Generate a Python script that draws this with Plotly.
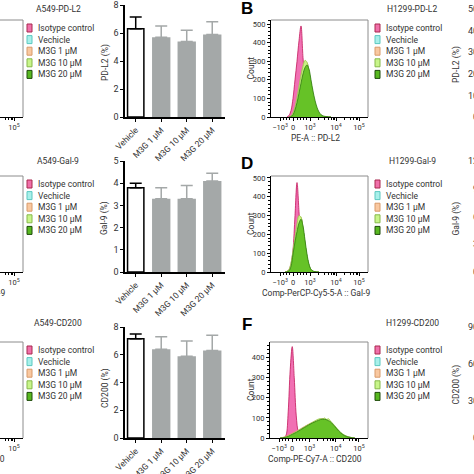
import plotly.graph_objects as go

W = H = 474
FONT = "Roboto, Noto Sans, DejaVu Sans, sans-serif"
TXT = "#333333"

# ---------------- data ----------------
GROUPS = ["Vehicle", "M3G 1 μM", "M3G 10 μM", "M3G 20 μM"]
LEGEND_LABELS = ["Isotype control", "Vechicle", "M3G 1 μM", "M3G 10 μM", "M3G 20 μM"]

PDL2_MEAN = [6.3, 5.7, 5.4, 5.9]
PDL2_SD = [0.85, 0.8, 0.8, 0.9]
GAL9_MEAN = [3.8, 3.3, 3.3, 4.1]
GAL9_SD = [0.2, 0.5, 0.6, 0.35]
CD200_MEAN = [7.15, 6.4, 5.9, 6.3]
CD200_SD = [0.35, 0.9, 1.1, 1.1]

FLOW_TICKVALS = [9, 22, 39, 65, 88]
FLOW_TICKTEXT = ["−10<sup>3</sup>", "0", "10<sup>3</sup>", "10<sup>4</sup>", "10<sup>5</sup>"]
FLOW_MINOR = [12, 15, 18, 26, 29, 32, 35, 47, 53, 57, 60, 62, 63, 73, 79, 82, 85, 86]
COUNT_TICKS = [0, 100, 200, 300, 400, 500]

# H1299-PD-L2 histograms (panel B)
B_ISO_X = [16, 18, 20, 22, 24, 26, 28, 30, 32, 34, 36, 38, 40]
B_ISO = [0, 8, 35, 100, 200, 300, 410, 490, 320, 190, 95, 30, 0]
B_X = [18, 20, 22, 24, 26, 28, 30, 32, 34, 36, 38, 40, 42, 44, 46, 48, 50, 52, 56, 60]
B_VEH = [0, 5, 20, 50, 100, 160, 220, 270, 295, 290, 240, 175, 115, 70, 38, 18, 8, 3, 1, 0]
B_M1 = [0, 6, 22, 55, 105, 165, 225, 275, 300, 292, 240, 172, 112, 68, 36, 17, 8, 3, 1, 0]
B_M10 = [0, 5, 20, 52, 100, 160, 222, 272, 305, 295, 245, 178, 116, 70, 37, 18, 8, 3, 1, 0]
B_M20 = [0, 2, 12, 38, 78, 128, 182, 232, 266, 280, 258, 200, 140, 90, 52, 27, 13, 6, 2, 0]

# H1299-Gal-9 histograms (panel D)
D_ISO_X = [16, 18, 20, 22, 24, 26, 28, 30, 32, 34, 36]
D_ISO = [0, 5, 30, 115, 300, 475, 320, 130, 35, 6, 0]
D_X = [14, 16, 18, 20, 22, 24, 26, 28, 30, 32, 34, 36, 38, 40, 42, 44, 48]
D_VEH = [0, 3, 12, 45, 110, 180, 248, 295, 288, 228, 150, 82, 36, 13, 4, 1, 0]
D_M1 = [0, 3, 14, 48, 115, 185, 252, 298, 290, 230, 150, 80, 35, 12, 4, 1, 0]
D_M10 = [0, 3, 12, 44, 108, 178, 250, 300, 292, 232, 152, 82, 36, 13, 4, 1, 0]
D_M20 = [0, 1, 6, 30, 95, 160, 215, 260, 280, 245, 170, 95, 42, 14, 5, 2, 0]

# H1299-CD200 histograms (panel F)
F_ISO_X = [14, 16, 18, 20, 22, 24, 26, 28, 30, 32]
F_ISO = [0, 15, 130, 340, 455, 300, 110, 28, 6, 0]
F_X = [10, 14, 18, 22, 26, 30, 34, 38, 42, 46, 50, 52, 54, 56, 58, 60, 64, 68, 72, 76, 80, 84]
F_VEH = [0, 3, 10, 20, 30, 42, 54, 66, 77, 86, 93, 95, 94, 92, 88, 82, 60, 37, 19, 8, 3, 0]
F_M1 = [0, 5, 14, 24, 34, 45, 57, 68, 78, 87, 94, 96, 95, 92, 88, 81, 59, 36, 18, 8, 3, 0]
F_M10 = [0, 3, 10, 20, 31, 43, 55, 67, 78, 90, 97, 94, 100, 93, 96, 84, 62, 38, 20, 9, 3, 0]
F_M20 = [0, 2, 8, 18, 28, 40, 52, 64, 75, 84, 92, 94, 93, 91, 86, 80, 58, 35, 17, 7, 2, 0]

RIGHT_PDL2_TICKS = [0, 10, 20, 30, 40, 50]
RIGHT_GAL9_TICKS = [0, 3, 6, 9, 12]
RIGHT_CD200_TICKS = [0, 30, 60, 90]

# ---------------- styles ----------------
FILL = ["rgba(240,100,172,0.92)", "rgba(160,240,235,0.85)", "rgba(250,200,160,0.88)",
        "rgba(200,245,130,0.92)", "rgba(98,192,35,0.96)"]
LINE = ["#C2185B", "#5BC8C0", "#E09A66", "#9CCC50", "#2F7A0F"]
SQ_FILL = ["#F070AA", "#A8F0EA", "#F9C8A0", "#C8F58A", "#58B820"]
SQ_LINE = ["#A8284F", "#5BC8C0", "#D89A6A", "#86B84A", "#1E4A0A"]


def xd(a, b):
    return [a / W, b / W]


def yd(top, bot):
    return [1 - bot / H, 1 - top / H]


def px(x):
    return x / W


def py(y):
    return 1 - y / H


def ax(n):
    return "" if n == 1 else str(n)


fig = go.Figure()
layout = {}
shapes = []
annotations = []


def ann(text, x, y, size=8.5, color=TXT, family=FONT, **kw):
    d = dict(text=text, x=px(x), y=py(y), xref="paper", yref="paper", showarrow=False,
             xanchor="center", yanchor="middle",
             font=dict(family=family, size=size, color=color))
    d.update(kw)
    annotations.append(d)


def tickfont(size=8):
    return dict(family=FONT, size=size, color=TXT)


def flow_axes(n, x0, x1, top, bot, xrange, ymax, ylabels=True):
    layout[f"xaxis{ax(n)}"] = dict(
        domain=xd(x0, x1), anchor=f"y{ax(n)}", range=xrange, tickvals=FLOW_TICKVALS,
        ticktext=FLOW_TICKTEXT, showline=True, linecolor="black", linewidth=1,
        ticks="outside", ticklen=3, tickwidth=1, tickcolor="black",
        minor=dict(tickvals=FLOW_MINOR, ticks="outside", ticklen=2, tickcolor="black"),
        showgrid=False, zeroline=False, tickfont=tickfont(7.5), fixedrange=True,
        automargin=False)
    layout[f"yaxis{ax(n)}"] = dict(
        domain=yd(top, bot), anchor=f"x{ax(n)}", range=[0, ymax], tickvals=COUNT_TICKS,
        showline=True, linecolor="black", linewidth=1, ticks="outside", ticklen=3,
        tickcolor="black", minor=dict(dtick=20, ticks="outside", ticklen=2, tickcolor="black"),
        showgrid=False, zeroline=False, tickfont=tickfont(7.5), fixedrange=True,
        showticklabels=ylabels, automargin=False)
    for (a, b, c, d) in [(0, 1, 1, 1), (1, 1, 0, 1)]:
        shapes.append(dict(type="line", xref=f"x{ax(n)} domain", yref=f"y{ax(n)} domain",
                           x0=a, x1=b, y0=c, y1=d, line=dict(color="#8c8c8c", width=1)))


def bar_axes(n, x0, x1, top, bot, ymax, dtick):
    layout[f"xaxis{ax(n)}"] = dict(
        domain=xd(x0, x1), anchor=f"y{ax(n)}", type="category", categoryorder="array",
        categoryarray=GROUPS, range=[-0.42, 3.5], showline=True, linecolor="black",
        linewidth=1.5, ticks="outside", ticklen=3, tickcolor="black", tickangle=-45,
        tickfont=tickfont(8.5), showgrid=False, fixedrange=True, automargin=False)
    layout[f"yaxis{ax(n)}"] = dict(
        domain=yd(top, bot), anchor=f"x{ax(n)}", range=[0, ymax], dtick=dtick,
        showline=True, linecolor="black", linewidth=1.5, ticks="outside", ticklen=3,
        tickcolor="black", showgrid=False, zeroline=False, tickfont=tickfont(9),
        fixedrange=True, automargin=False)


def partial_axes(n, top, bot, tickvals):
    layout[f"xaxis{ax(n)}"] = dict(domain=[0.996, 1], anchor=f"y{ax(n)}", visible=False,
                                   range=[0, 1], automargin=False)
    layout[f"yaxis{ax(n)}"] = dict(
        domain=yd(top, bot), anchor="free", position=1.0, side="left",
        range=[0, tickvals[-1]], tickvals=tickvals, showline=False, ticks="",
        showgrid=False, zeroline=False, ticklabelstandoff=-4, tickfont=tickfont(9),
        fixedrange=True, automargin=False)


def empty(n):
    fig.add_trace(go.Scatter(x=[], y=[], xaxis=f"x{ax(n)}", yaxis=f"y{ax(n)}",
                             showlegend=False, hoverinfo="skip"))


def add_hist(n, iso_x, iso, xs, series):
    fig.add_trace(go.Scatter(x=iso_x, y=iso, mode="lines", line=dict(color=LINE[0], width=0.8,
                                                                  shape="spline"),
                             fill="tozeroy", fillcolor=FILL[0], xaxis=f"x{ax(n)}",
                             yaxis=f"y{ax(n)}", showlegend=False))
    for i, ys in enumerate(series, start=1):
        fig.add_trace(go.Scatter(x=xs, y=ys, mode="lines",
                                 line=dict(color=LINE[i], width=0.8, shape="spline"),
                                 fill="tozeroy", fillcolor=FILL[i], xaxis=f"x{ax(n)}",
                                 yaxis=f"y{ax(n)}", showlegend=False))


def add_bars(n, mean, sd):
    fig.add_trace(go.Bar(x=GROUPS[:1], y=mean[:1], width=0.64,
                         marker=dict(color="white", line=dict(color="black", width=1.5)),
                         error_y=dict(type="data", array=sd[:1], arrayminus=[0],
                                      symmetric=False, color="black", thickness=1.5, width=6),
                         xaxis=f"x{ax(n)}", yaxis=f"y{ax(n)}", showlegend=False))
    fig.add_trace(go.Bar(x=GROUPS[1:], y=mean[1:], width=0.72,
                         marker=dict(color="#A4A8A8", line=dict(color="#A4A8A8", width=0)),
                         error_y=dict(type="data", array=sd[1:], arrayminus=[0] * 3,
                                      symmetric=False, color="#A4A8A8", thickness=1.5, width=6),
                         xaxis=f"x{ax(n)}", yaxis=f"y{ax(n)}", showlegend=False))


def legend_block(x, y0, step=11.6):
    for i, lab in enumerate(LEGEND_LABELS):
        yc = y0 + i * step
        shapes.append(dict(type="rect", xref="paper", yref="paper", x0=px(x), x1=px(x + 5),
                           y0=py(yc + 4), y1=py(yc - 4), fillcolor=SQ_FILL[i],
                           line=dict(color=SQ_LINE[i], width=1)))
        ann(lab, x + 9, yc, size=8.5, xanchor="left")


ROWS = [
    dict(hist_top=20, base=117, bar_top=5, bar_ymax=8, bar_dtick=2, mean=PDL2_MEAN, sd=PDL2_SD,
         a_title="A549-PD-L2", h_title="H1299-PD-L2", title_y=9, leg_y=28, ylab="PD-L2 (%)",
         bar_lab_y=63, letter="B", letter_y=8, hist_ymax=522, fx="PE-A :: PD-L2",
         iso_x=B_ISO_X, iso=B_ISO, xs=B_X, series=[B_VEH, B_M1, B_M10, B_M20],
         rp_top=9, rp_ticks=RIGHT_PDL2_TICKS, a_xlab_show=False, hx0=271, hx1=368),
    dict(hist_top=176, base=272, bar_top=161, bar_ymax=5, bar_dtick=1, mean=GAL9_MEAN, sd=GAL9_SD,
         a_title="A549-Gal-9", h_title="H1299-Gal-9", title_y=161, leg_y=184, ylab="Gal-9 (%)",
         bar_lab_y=218, letter="D", letter_y=163, hist_ymax=510,
         fx="Comp-PerCP-Cy5-5-A :: Gal-9",
         iso_x=D_ISO_X, iso=D_ISO, xs=D_X, series=[D_VEH, D_M1, D_M10, D_M20],
         rp_top=161, rp_ticks=RIGHT_GAL9_TICKS, a_xlab_show=True, hx0=271, hx1=368),
    dict(hist_top=342, base=438, bar_top=327, bar_ymax=8, bar_dtick=2, mean=CD200_MEAN, sd=CD200_SD,
         a_title="A549-CD200", h_title="H1299-CD200", title_y=323, leg_y=350, ylab="CD200 (%)",
         bar_lab_y=388, letter="F", letter_y=324, hist_ymax=478,
         fx="Comp-PE-Cy7-A :: CD200",
         iso_x=F_ISO_X, iso=F_ISO, xs=F_X, series=[F_VEH, F_M1, F_M10, F_M20],
         rp_top=327, rp_ticks=RIGHT_CD200_TICKS, a_xlab_show=True, hx0=270, hx1=368),
]

for r, R in enumerate(ROWS):
    b = r * 4
    # left partial A549 histogram
    flow_axes(b + 1, 0, 23, R["hist_top"], R["base"], [74, 97], R["hist_ymax"], ylabels=False)
    empty(b + 1)
    # A549 bar chart
    bar_axes(b + 2, 125, 225, R["bar_top"], R["base"], R["bar_ymax"], R["bar_dtick"])
    add_bars(b + 2, R["mean"], R["sd"])
    # H1299 histogram
    flow_axes(b + 3, R["hx0"], R["hx1"], R["hist_top"], R["base"], [0, 97], R["hist_ymax"])
    add_hist(b + 3, R["iso_x"], R["iso"], R["xs"], R["series"])
    # right partial H1299 bar chart
    partial_axes(b + 4, R["rp_top"], R["base"], R["rp_ticks"])
    empty(b + 4)

    # texts
    ann(R["a_title"], 58, R["title_y"], size=8.5)
    ann(R["h_title"], 412, R["title_y"], size=8.5)
    legend_block(27, R["leg_y"])
    legend_block(375, R["leg_y"])
    ann(R["ylab"], 105, R["bar_lab_y"], size=8.5, textangle=-90)
    ann(R["ylab"], 456, (R["rp_top"] + R["base"]) / 2 + 2, size=8.5, textangle=-90)
    ann("<b>" + R["letter"] + "</b>", 247, R["letter_y"], size=17, color="black",
        family="Arial, Liberation Sans, sans-serif")
    ann("Count", 251, (R["hist_top"] + R["base"]) / 2, size=8.5, textangle=-90)
    ann(R["fx"], (R["hx0"] + R["hx1"]) / 2 - 4, R["base"] + 21, size=8.5)
    if R["a_xlab_show"]:
        ann(R["fx"], 7, R["base"] + 21, size=8.5, xanchor="right")

fig.update_layout(
    width=W, height=H, margin=dict(l=0, r=0, t=0, b=0, autoexpand=False),
    paper_bgcolor="white", plot_bgcolor="rgba(0,0,0,0)",
    barmode="overlay", showlegend=False,
    font=dict(family=FONT, size=8, color=TXT),
    shapes=shapes, annotations=annotations,
    **layout,
)

fig.write_html("out.html", config={"displayModeBar": False})
